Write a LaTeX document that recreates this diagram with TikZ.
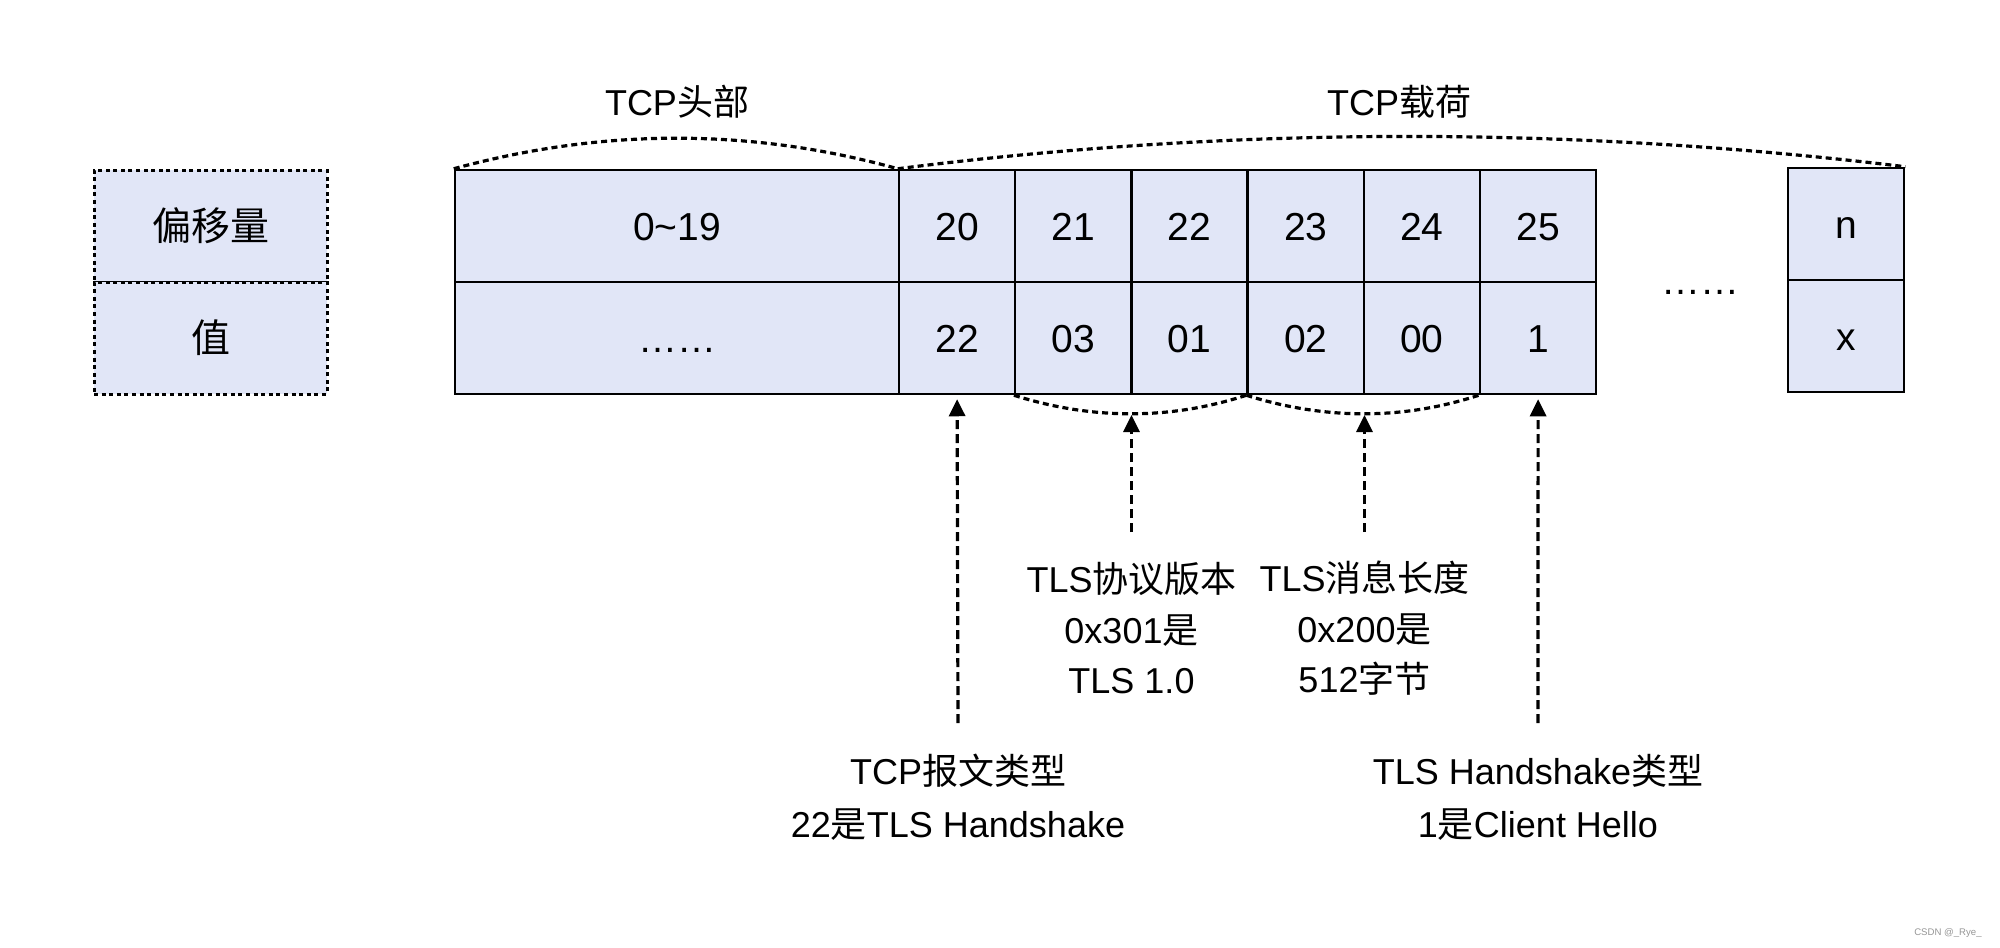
\documentclass[tikz,border=0pt]{standalone}
\usepackage{fontspec}
\setmainfont{Liberation Sans}
\newfontfamily\cjkfont{Noto Sans CJK SC}
\newcommand\zh[1]{{\cjkfont #1}}
\usetikzlibrary{arrows.meta}
\definecolor{cellfill}{RGB}{225,230,247}
\definecolor{marktext}{RGB}{150,150,150}

\begin{document}
\begin{tikzpicture}[x=0.5pt,y=-0.5pt,
  celltext/.style={text height=15.6pt, text depth=1.56pt,
    font=\fontsize{19.5pt}{23pt}\selectfont},
  cell/.style={celltext, draw=black, fill=cellfill, line width=1.25pt, inner sep=0pt,
    minimum height=56pt},
  bytecell/.style={cell, minimum width=58.1pt},
  keycell/.style={cell, line width=1.5pt, dash pattern=on 2pt off 1.8pt, minimum width=116.5pt},
  brace/.style={line width=1.6pt, dash pattern=on 3pt off 2pt},
  pointer/.style={line width=1.6pt, dash pattern=on 4.5pt off 2.5pt,
    -{Triangle[length=8.5pt,width=8pt]}},
  note/.style={align=center, inner sep=0pt, font=\fontsize{18pt}{26.5pt}\selectfont},
  midnote/.style={note, font=\fontsize{18pt}{25.25pt}\selectfont},
]
\useasboundingbox[fill=white] (0,0) rectangle (2000,947);

% legend: offset / value
\node[keycell] (kOff) at (210.5,226) {\zh{偏移量}};
\node[keycell] (kVal) at (210.5,338) {\zh{值}};

% TCP header block
\node[cell, minimum width=222pt] (o0) at (677,226) {0\textasciitilde19};
\node[cell, minimum width=222pt] (v0) at (677,338) {……};

% payload bytes 20..25
\foreach \off/\val [count=\i from 0] in {20/22, 21/03, 22/01, 23/02, 24/00, 25/1} {
  \node[bytecell] (o\off) at (957.1+116.2*\i,226) {\off};
  \node[bytecell] (v\off) at (957.1+116.2*\i,338) {\val};
}

% gap and last byte
\node[celltext, inner sep=0pt] (gap) at (1700,280) {……};
\node[bytecell] (on) at (1846,224) {n};
\node[bytecell] (vn) at (1846,336) {x};

% upper braces with titles
\draw[brace] (o0.north west) .. controls (603,128) and (751,128) .. (o20.north west);
\draw[brace] (o20.north west) .. controls (1234,126) and (1570,126) .. (on.north east);
\node[note] (hdr) at (677,102) {TCP\zh{头部}};
\node[note] (pay) at (1399,102) {TCP\zh{载荷}};

% lower braces over the two-byte fields
\draw[brace] (v21.south west) .. controls (1092,420) and (1170,420) .. (v23.south west);
\draw[brace] (v23.south west) .. controls (1325,420) and (1403,420) .. (v25.south west);
\coordinate (dipA) at (1131.5,415);
\coordinate (dipB) at (1364.5,415);

% annotations
\node[note] (nType) at (958,797) {TCP\zh{报文类型}\\22\zh{是}TLS Handshake};
\node[midnote] (nVer) at (1131.5,628.5) {TLS\zh{协议版本}\\0x301\zh{是}\\TLS 1.0};
\node[midnote] (nLen) at (1364.5,628.5) {TLS\zh{消息长度}\\0x200\zh{是}\\512\zh{字节}};
\node[note] (nHs) at (1538,797) {TLS Handshake\zh{类型}\\1\zh{是}Client Hello};

\coordinate (tType) at (958,723);
\coordinate (tVer) at (1131.5,532);
\coordinate (tLen) at (1364.5,532);
\coordinate (tHs) at (1538,723);

\draw[pointer, shorten >=2pt] (tType) -- (v20.south);
\draw[pointer] (tVer) -- (dipA);
\draw[pointer] (tLen) -- (dipB);
\draw[pointer, shorten >=2pt] (tHs) -- (v25.south);

\node[anchor=east, inner sep=0pt, text=marktext, font=\fontsize{4.8pt}{6pt}\selectfont]
  (mark) at (1982,933) {CSDN @\_Rye\_};
\end{tikzpicture}
\end{document}
